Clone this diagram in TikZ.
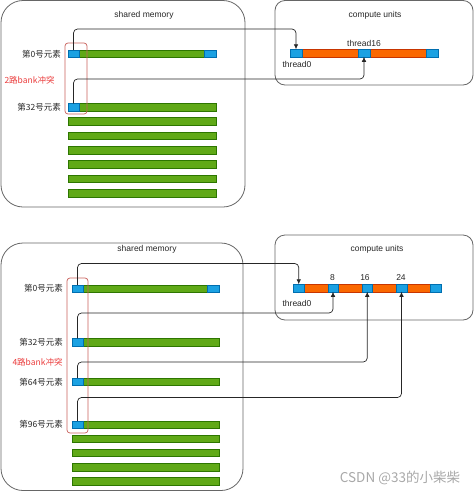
\documentclass[tikz,border=0pt]{standalone}
\usepackage{fontspec}
\setmainfont{Liberation Sans}
\newfontfamily\cjk{Noto Sans CJK SC}
\usetikzlibrary{arrows.meta}
\definecolor{bfill}{HTML}{1BA1E2}
\definecolor{bline}{HTML}{006EAF}
\definecolor{gfill}{HTML}{60A917}
\definecolor{gline}{HTML}{2D7600}
\definecolor{ofill}{HTML}{FA6800}
\definecolor{oline}{HTML}{C73500}
\definecolor{boxline}{HTML}{666666}
\definecolor{redbox}{HTML}{C8615C}
\definecolor{redtext}{HTML}{EA3B3B}
\definecolor{wmark}{HTML}{A8A8A8}
\tikzset{
  cellbase/.style={rectangle,inner sep=0pt,outer sep=0pt,minimum height=7.5,line width=0.5pt},
  gbar/.style={cellbase,fill=gfill,draw=gline,minimum width=148,anchor=west},
  obar/.style={cellbase,fill=ofill,draw=oline,anchor=west},
  bcell/.style={cellbase,fill=bfill,draw=bline,anchor=west},
  panel/.style={draw=boxline,line width=0.8pt},
  redframe/.style={draw=redbox,line width=0.7pt,rounded corners=3},
  conn/.style={draw=black!85,line width=0.7pt,rounded corners=4,-{Latex[length=5pt,width=4.5pt]}},
  txt/.style={inner sep=0pt,text=black!85},
  lbl/.style={txt,anchor=east,font=\cjk\fontsize{8.5}{10}\selectfont},
  redlbl/.style={inner sep=0pt,text=redtext,font=\cjk\fontsize{8.5}{10}\selectfont},
}
\begin{document}
\begin{tikzpicture}[x=1pt,y=-1pt,font=\fontsize{8.5}{10}\selectfont]
\useasboundingbox (0,0) rectangle (474,491);
% ================= top panel =================
\draw[panel,rounded corners=22] (1,0.5) rectangle (245,207);
\draw[panel,rounded corners=10] (275,0.5) rectangle (473,85);
\node[txt] (smA) at (144,15) {shared memory};
\node[txt] (cuA) at (375,15) {compute units};
% memory rows
\node[gbar] (Ar0) at (68,53.5) {};
\node[bcell,minimum width=11] (A0) at (68,53.5) {};
\node[bcell,minimum width=12,anchor=east] (A0e) at (216,53.5) {};
\node[gbar] (Ar32) at (68,107) {};
\node[bcell,minimum width=11] (A32) at (68,107) {};
\foreach \i/\y in {1/121.3,2/135.6,3/150,4/164.3,5/178.6,6/193}
  \node[gbar] (Ag\i) at (68,\y) {};
% threads
\node[obar,minimum width=148] (TrA) at (290,53) {};
\node[bcell,minimum width=12] (TA0) at (290,53) {};
\node[bcell,minimum width=12] (TA16) at (358,53) {};
\node[bcell,minimum width=12] (TAe) at (426,53) {};
\node[txt] (thA16) at (364,43) {thread16};
\node[txt] (thA0) at (297,64) {thread0};
% labels
\node[lbl] (lA0) at (61,54) {第0号元素};
\node[redlbl] (cfA) at (29.5,80) {2路bank冲突};
\node[lbl] (lA32) at (61,107) {第32号元素};
\draw[redframe] (65,43) rectangle (87,114);
% connectors
\coordinate (ya) at (0,29);
\coordinate (yb) at (0,79);
\draw[conn] (A0.north) |- (ya -| TA0.north) -- (TA0.north);
\draw[conn] (A32.north) |- (yb -| TA16.south) -- (TA16.south);
% ================= bottom panel =================
\draw[panel,rounded corners=22] (1,243) rectangle (243,490.5);
\draw[panel,rounded corners=10] (275,235) rectangle (473,320);
\node[txt] (smB) at (147,249) {shared memory};
\node[txt] (cuB) at (377,249) {compute units};
% memory rows
\node[gbar,minimum width=147] (Br0) at (72,288.5) {};
\node[bcell,minimum width=11] (B0) at (72,288.5) {};
\node[bcell,minimum width=12,anchor=east] (B0e) at (219,288.5) {};
\node[gbar,minimum width=147] (Br32) at (72,342) {};
\node[bcell,minimum width=11] (B32) at (72,342) {};
\node[gbar,minimum width=147] (Br64) at (72,381.5) {};
\node[bcell,minimum width=11] (B64) at (72,381.5) {};
\node[gbar,minimum width=147] (Br96) at (72,424.5) {};
\node[bcell,minimum width=11] (B96) at (72,424.5) {};
\foreach \i/\y in {1/438.6,2/452.8,3/467.1,4/481.4}
  \node[gbar,minimum width=147] (Bg\i) at (72,\y) {};
% threads
\node[obar,minimum width=147.5] (TrB) at (293.5,288) {};
\node[bcell,minimum width=10.5] (TB0) at (293.5,288) {};
\node[bcell,minimum width=10.5] (TB8) at (327.75,288) {};
\node[bcell,minimum width=10.5] (TB16) at (362,288) {};
\node[bcell,minimum width=10.5] (TB24) at (396.25,288) {};
\node[bcell,minimum width=10.5] (TBe) at (430.5,288) {};
\node[txt] (nB8) at (332.5,278) {8};
\node[txt] (nB16) at (365,278) {16};
\node[txt] (nB24) at (401,278) {24};
\node[txt] (thB0) at (297,303) {thread0};
% labels
\node[lbl] (lB0) at (63,288.5) {第0号元素};
\node[lbl] (lB32) at (63,342) {第32号元素};
\node[redlbl] (cfB) at (37.5,362) {4路bank冲突};
\node[lbl] (lB64) at (63,382) {第64号元素};
\node[lbl] (lB96) at (63,424.5) {第96号元素};
\draw[redframe] (67,278) rectangle (88,433);
% connectors
\coordinate (yc) at (0,263.5);
\coordinate (yd) at (0,313);
\coordinate (ye) at (0,362);
\coordinate (yf) at (0,397.5);
\draw[conn] (B0.north) |- (yc -| TB0.north) -- (TB0.north);
\draw[conn] (B32.north) |- (yd -| TB8.south) -- (TB8.south);
\draw[conn] (B64.north) |- (ye -| TB16.south) -- (TB16.south);
\draw[conn] (B96.north) |- (yf -| TB24.south) -- (TB24.south);
% watermark
\node[inner sep=0pt,text=wmark,font=\cjk\fontsize{13.5}{15}\selectfont] (wm) at (400,478) {CSDN @33的小柴柴};
\end{tikzpicture}
\end{document}
